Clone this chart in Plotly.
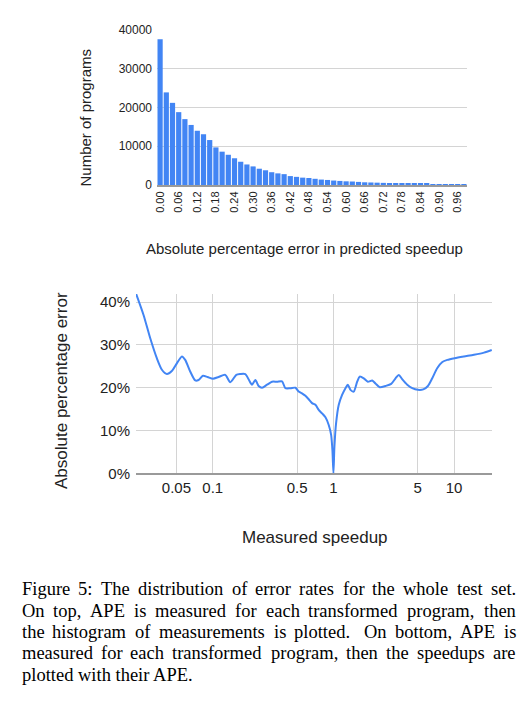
import plotly.graph_objects as go

# top: histogram of APE
ape_bins = [
    "0.00", "0.02", "0.04", "0.06", "0.08", "0.10", "0.12", "0.14", "0.16", "0.18",
    "0.20", "0.22", "0.24", "0.26", "0.28", "0.30", "0.32", "0.34", "0.36", "0.38",
    "0.40", "0.42", "0.44", "0.46", "0.48", "0.50", "0.52", "0.54", "0.56", "0.58",
    "0.60", "0.62", "0.64", "0.66", "0.68", "0.70", "0.72", "0.74", "0.76", "0.78",
    "0.80", "0.82", "0.84", "0.86", "0.88", "0.90", "0.92", "0.94", "0.96", "0.98",
]
program_counts = [
    37600, 23900, 21200, 18800, 17000, 15500, 14000, 13100, 11600, 9700,
    8600, 7800, 6900, 6000, 5300, 4800, 4200, 3800, 3300, 3000,
    2800, 2300, 2100, 1900, 1800, 1600, 1400, 1300, 1150, 1050,
    950, 900, 800, 700, 650, 600, 550, 500, 450, 400,
    350, 300, 280, 260, 250, 230, 220, 200, 190, 180,
]
bin_ticks = ["0.00", "0.06", "0.12", "0.18", "0.24", "0.30", "0.36", "0.42", "0.48",
             "0.54", "0.60", "0.66", "0.72", "0.78", "0.84", "0.90", "0.96"]
count_ticks = [0, 10000, 20000, 30000, 40000]
count_ticktext = ["0", "10000", "20000", "30000", "40000"]

# bottom: APE against measured speedup
speedup = [
    0.0232, 0.0267, 0.0303, 0.0344, 0.0379, 0.0417, 0.0458, 0.0504, 0.0555, 0.0591,
    0.065, 0.0716, 0.0762, 0.083, 0.0906, 0.1004, 0.1117, 0.127, 0.1397, 0.1567,
    0.169, 0.186, 0.205, 0.2115, 0.2255, 0.240, 0.256, 0.282, 0.310, 0.341,
    0.375, 0.400, 0.440, 0.484, 0.515, 0.549, 0.586, 0.624, 0.665, 0.709,
    0.755, 0.805, 0.859, 0.914, 0.957, 0.981, 1.0, 1.019, 1.052, 1.107,
    1.18, 1.258, 1.315, 1.384, 1.473, 1.573, 1.652, 1.785, 1.93, 2.095,
    2.23, 2.42, 2.70, 3.01, 3.27, 3.48, 3.71, 4.09, 4.50, 5.01,
    5.55, 6.07, 6.59, 7.26, 7.99, 8.79, 10.1, 12.06, 14.6, 17.7, 20.5,
]
ape_pct = [
    41.9, 37.0, 31.6, 26.9, 24.2, 23.2, 23.9, 25.7, 27.3, 26.5,
    23.8, 21.7, 21.8, 22.8, 22.5, 22.1, 22.5, 23.0, 21.3, 23.0,
    23.2, 23.2, 21.2, 20.7, 21.8, 20.4, 20.0, 20.7, 21.4, 21.4,
    21.5, 19.9, 19.9, 20.0, 19.1, 18.7, 18.1, 17.3, 16.4, 16.0,
    14.8, 14.0, 13.1, 11.3, 9.0, 5.4, 0.0, 6.2, 11.7, 16.0,
    18.3, 19.9, 20.7, 19.5, 19.1, 21.4, 22.6, 22.2, 21.4, 21.7,
    21.0, 20.1, 20.4, 20.9, 22.2, 23.0, 22.0, 20.7, 19.9, 19.5,
    19.6, 20.4, 22.2, 24.6, 26.0, 26.5, 26.9, 27.3, 27.7, 28.2, 28.8,
]
speedup_ticks = [0.05, 0.1, 0.5, 1, 5, 10]
speedup_ticktext = ["0.05", "0.1", "0.5", "1", "5", "10"]
ape_ticks = [0, 10, 20, 30, 40]
ape_ticktext = ["0%", "10%", "20%", "30%", "40%"]

caption_lines = [
    "Figure 5: The distribution of error rates for the whole test set.",
    "On top, APE is measured for each transformed program, then",
    "the histogram of measurements is plotted.  On bottom, APE is",
    "measured for each transformed program, then the speedups are",
    "plotted with their APE.",
]

BLUE = "#4285f4"
GRID = "#d4d4d4"
BASE = "#9a9a9a"
W, H = 529, 704

fig = go.Figure()
fig.add_trace(go.Bar(x=ape_bins, y=program_counts, marker=dict(color=BLUE, line=dict(width=0)),
                     xaxis="x", yaxis="y", showlegend=False))
fig.add_trace(go.Scatter(x=speedup, y=ape_pct, mode="lines",
                         line=dict(color=BLUE, width=2, shape="spline", smoothing=0.7),
                         xaxis="x2", yaxis="y2", showlegend=False))

font = dict(family="Liberation Sans, Arial", color="#222")

fig.update_layout(
    template="none",
    width=W, height=H,
    margin=dict(l=0, r=0, t=0, b=0),
    paper_bgcolor="white", plot_bgcolor="white",
    bargap=0.16,
    font=font,
    xaxis=dict(
        domain=[157 / W, 467 / W], type="category",
        tickmode="array", tickvals=bin_ticks, ticktext=bin_ticks,
        tickangle=-90, tickfont=dict(size=11), ticks="",
        showgrid=False, showline=True, linecolor=BASE, linewidth=2,
        anchor="y",
    ),
    yaxis=dict(
        domain=[1 - 185 / H, 1 - 30 / H], range=[0, 40000],
        tickmode="array", tickvals=count_ticks, ticktext=count_ticktext,
        tickfont=dict(size=12), ticks="", ticklabelstandoff=4,
        showgrid=True, gridcolor=GRID, gridwidth=1, zeroline=False, anchor="x",
    ),
    xaxis2=dict(
        domain=[136 / W, 492 / W], type="log",
        range=[-1.636, 1.314],
        tickmode="array", tickvals=speedup_ticks, ticktext=speedup_ticktext,
        tickfont=dict(size=15), ticks="",
        showgrid=True, gridcolor=GRID, gridwidth=1,
        showline=True, linecolor=BASE, linewidth=2, anchor="y2",
    ),
    yaxis2=dict(
        domain=[1 - 473.3 / H, 1 - 294 / H], range=[0, 41.9],
        tickmode="array", tickvals=ape_ticks, ticktext=ape_ticktext, tickfont=dict(size=15),
        ticks="", showgrid=True, gridcolor=GRID, gridwidth=1,
        zeroline=False, anchor="x2", ticklabelstandoff=5,
    ),
)

# axis titles placed as annotations to match the page layout
titles = [
    ("Number of programs", 85, 117.5, -90, 15),
    ("Absolute percentage error in predicted speedup", 304, 248, 0, 15),
    ("Absolute percentage error", 61, 391, -90, 17),
    ("Measured speedup", 315, 537, 0, 17),
]
for text, tx, ty, angle, size in titles:
    fig.add_annotation(text=text, x=tx / W, y=1 - ty / H, xref="paper", yref="paper",
                       xanchor="center", yanchor="middle", textangle=angle,
                       showarrow=False, font=dict(size=size))

# figure caption, justified like the paper: word widths from Times metrics (per 1000 em)
TIMES = {
    " ": 250, ",": 250, ".": 250, ":": 278, "5": 500,
    "A": 722, "E": 611, "F": 556, "O": 722, "P": 556, "T": 611,
    "a": 444, "b": 500, "c": 444, "d": 500, "e": 444, "f": 333, "g": 500, "h": 500,
    "i": 278, "l": 278, "m": 778, "n": 500, "o": 500, "p": 500, "r": 333, "s": 389,
    "t": 278, "u": 500, "w": 722, "y": 500,
}
CAP_SIZE = 18.5
CAP_LEFT, CAP_RIGHT = 20.5, 515
caption_y = [589, 610.5, 632, 653, 674.5]
cap_font = dict(family="Liberation Serif, Times New Roman", size=CAP_SIZE, color="black")


def word_width(word):
    return sum(TIMES.get(ch, 500) for ch in word) * CAP_SIZE / 1000 * 1.01


for i, (line, cy) in enumerate(zip(caption_lines, caption_y)):
    if i == len(caption_lines) - 1:
        fig.add_annotation(text=line, x=CAP_LEFT / W, y=1 - cy / H, xref="paper", yref="paper",
                           xanchor="left", yanchor="middle", showarrow=False, borderpad=0, font=cap_font)
        continue
    words = line.split()
    widths = [word_width(w) for w in words]
    # a sentence end keeps a wider gap, as in the paper
    weights = [1.6 if w.endswith(".") else 1.0 for w in words[:-1]]
    unit = (CAP_RIGHT - CAP_LEFT - sum(widths)) / sum(weights)
    x = CAP_LEFT
    for j, (w, ww) in enumerate(zip(words, widths)):
        fig.add_annotation(text=w, x=x / W, y=1 - cy / H, xref="paper", yref="paper",
                           xanchor="left", yanchor="middle", showarrow=False, borderpad=0, font=cap_font)
        if j < len(weights):
            x += ww + unit * weights[j]

# drop the default page margin so the figure sits at the window origin
fig.write_html("out.html", config={"displayModeBar": False},
               post_script="document.body.style.margin = '0';")
